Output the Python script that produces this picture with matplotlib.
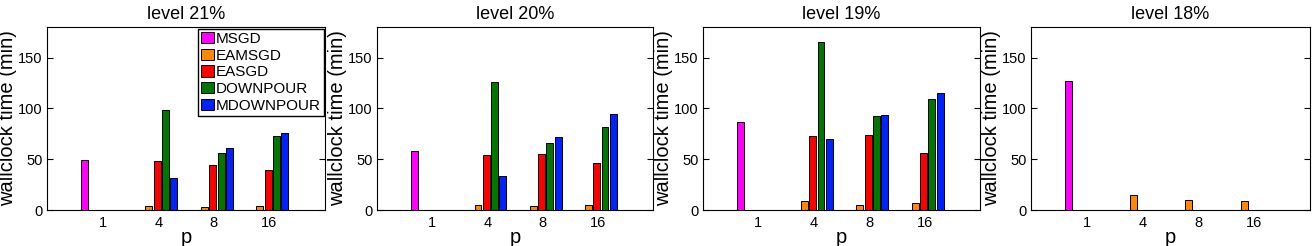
import matplotlib
matplotlib.use('agg')
import matplotlib.pyplot as plt
import numpy as np

plt.rcParams['font.family'] = ['Liberation Sans', 'DejaVu Sans']

methods = ['MSGD', 'EAMSGD', 'EASGD', 'DOWNPOUR', 'MDOWNPOUR']
colors = ['#ff00ff', '#ff8800', '#ff0000', '#007700', '#0022ff']
p_labels = ['1', '4', '8', '16']
levels = ['level 21%', 'level 20%', 'level 19%', 'level 18%']

# wallclock time (min) per level; rows follow methods, columns follow p
level21 = [[49, 0, 0, 0],
           [0, 3.6, 2.6, 3.6],
           [0, 48, 44, 39],
           [0, 98, 56, 72.5],
           [0, 31, 61, 76]]
level20 = [[58.5, 0, 0, 0],
           [0, 5, 3.6, 5],
           [0, 54, 55, 46],
           [0, 125.5, 65.7, 82],
           [0, 33, 71.6, 94]]
level19 = [[87, 0, 0, 0],
           [0, 8.5, 4.6, 7],
           [0, 72.5, 73.5, 56],
           [0, 165, 92, 109],
           [0, 70, 93, 115]]
level18 = [[127, 0, 0, 0],
           [0, 14.4, 9.5, 8.5],
           [0, 0, 0, 0],
           [0, 0, 0, 0],
           [0, 0, 0, 0]]
all_levels = [level21, level20, level19, level18]

fig = plt.figure(figsize=(13.14, 2.46), dpi=100)
W, H = 1314.0, 246.0
ax_left = [47, 377, 703, 1031]
ax_right = [325, 653, 980, 1310]
top_px, bot_px = 27, 210

xs = np.arange(1, len(p_labels) + 1)
bar_w = 0.125
step = 0.15

for i in range(4):
    ax = fig.add_axes([ax_left[i] / W, 1 - bot_px / H,
                       (ax_right[i] - ax_left[i]) / W, (bot_px - top_px) / H])
    data = all_levels[i]
    for k in range(len(methods)):
        vals = np.array(data[k], dtype=float)
        mask = vals > 0
        ax.bar(xs[mask] - 0.32 + k * step, vals[mask], width=bar_w,
               color=colors[k], edgecolor='black', lw=0.7, label=methods[k])
    ax.set_xlim(0, 5)
    ax.set_ylim(0, 180)
    ax.set_xticks(xs)
    ax.set_xticklabels(p_labels)
    ax.set_yticks([0, 50, 100, 150])
    ax.tick_params(axis='x', length=0, labelsize=10.5, pad=4)
    ax.tick_params(axis='y', direction='in', left=True, right=True,
                   length=4, labelsize=10.5, pad=3)
    ax.set_title(levels[i], fontsize=13, pad=6)
    ax.set_xlabel('p', fontsize=14.5, labelpad=-1)
    ax.set_ylabel('wallclock time (min)', fontsize=14.5, labelpad=1)
    if i == 0:
        # legend only needs one entry per method
        handles = [plt.Rectangle((0, 0), 1, 1, facecolor=c, edgecolor='black', lw=0.7)
                   for c in colors]
        leg = ax.legend(handles, methods, loc='upper right',
                        bbox_to_anchor=(0.995, 0.99), borderaxespad=0,
                        fontsize=11, handlelength=0.8, handleheight=0.75,
                        handletextpad=0.12, labelspacing=0.18, borderpad=0.2,
                        fancybox=False, framealpha=1, edgecolor='black')
        leg.get_frame().set_linewidth(1)

fig.savefig('out.png', dpi=100)
